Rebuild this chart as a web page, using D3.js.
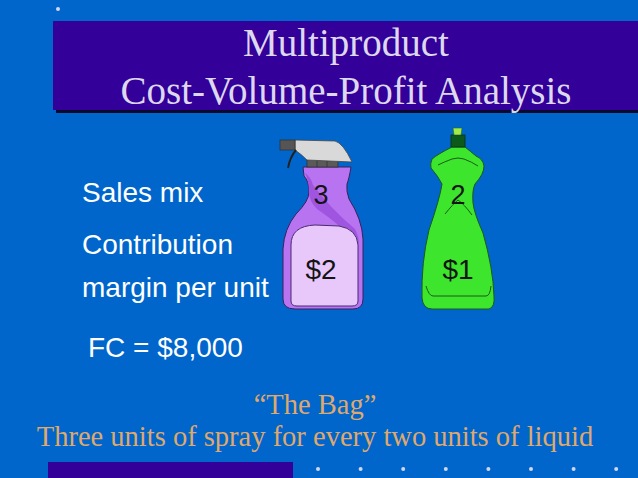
<!DOCTYPE html>
<html>
<head>
<meta charset="utf-8">
<script src="https://cdn.jsdelivr.net/npm/d3@7"></script>
<style>
  html, body { margin: 0; padding: 0; background: #0066cc; }
  svg { display: block; }
</style>
</head>
<body>
<div id="slide"></div>
<script>
// slide content
const titleLines = ['Multiproduct', 'Cost-Volume-Profit Analysis'];
const products = ['Spray', 'Liquid'];
const salesMix = [3, 2];
const cmPerUnit = [2, 1];
const fixedCost = 8000;
const rowLabels = ['Sales mix', 'Contribution', 'margin per unit'];
const footerLines = ['\u201CThe Bag\u201D', 'Three units of spray for every two units of liquid'];

const width = 638, height = 478;

const svg = d3.select('#slide').append('svg')
    .attr('width', width)
    .attr('height', height);

// background
svg.append('rect').attr('width', width).attr('height', height).attr('fill', '#0066cc');

// title box with shadow
svg.append('rect').attr('x', 56).attr('y', 24).attr('width', 600).attr('height', 89).attr('fill', '#0a0a2a');
svg.append('rect').attr('x', 53).attr('y', 21).attr('width', 600).attr('height', 89).attr('fill', '#330099');
svg.append('circle').attr('cx', 58).attr('cy', 9).attr('r', 2).attr('fill', '#cfd8f0');

svg.selectAll('.title')
    .data(titleLines)
    .join('text')
    .attr('class', 'title')
    .attr('x', 346)
    .attr('y', (d, i) => 56 + i * 48)
    .attr('text-anchor', 'middle')
    .attr('font-family', '"Liberation Serif", "Times New Roman", serif')
    .attr('font-size', 39)
    .attr('fill', '#ddd8ee')
    .text(d => d);

// row labels on the left
const labelY = d3.scaleOrdinal().domain(rowLabels).range([202, 254, 297]);
svg.selectAll('.row-label')
    .data(rowLabels)
    .join('text')
    .attr('class', 'row-label')
    .attr('x', 82)
    .attr('y', d => labelY(d))
    .attr('font-family', '"Liberation Sans", Arial, sans-serif')
    .attr('font-size', 28)
    .attr('fill', '#ffffff')
    .text(d => d);

svg.append('text')
    .attr('x', 88)
    .attr('y', 357)
    .attr('font-family', '"Liberation Sans", Arial, sans-serif')
    .attr('font-size', 28)
    .attr('fill', '#ffffff')
    .text('FC = ' + d3.format('$,')(fixedCost));

// bottle positions
const x = d3.scalePoint().domain(products).range([321, 458]);

// spray bottle (drawn around its own centre)
function drawSpray(g) {
    // body
    g.append('path')
        .attr('d', 'M-18,38 L30,38 Q28,50 26,55 Q25,62 28,70 Q41,90 42,110 L42,170 Q42,180 32,180 L-26,180 Q-38,180 -38,170 L-38,120 Q-37,100 -25,85 Q-12,72 -12,63 Q-12,52 -17,47 Z')
        .attr('fill', '#b873f0')
        .attr('stroke', '#3a2060')
        .attr('stroke-width', 1);
    // darker diagonal band
    g.append('path')
        .attr('d', 'M-16,44 Q-10,48 -8,56 Q10,80 34,100 Q38,108 38,115 Q18,95 -4,80 Q-12,72 -12,63 Q-12,52 -16,44 Z')
        .attr('fill', '#a055e0');
    // label
    g.append('path')
        .attr('d', 'M-30,116 Q-30,97 -6,96 L18,97 Q36,100 37,116 L37,172 Q37,177 31,177 L-24,177 Q-30,177 -30,172 Z')
        .attr('fill', '#e8c8fa')
        .attr('stroke', '#4a2a70')
        .attr('stroke-width', 1);
    // collar
    g.append('rect').attr('x', -14).attr('y', 29).attr('width', 31).attr('height', 9)
        .attr('fill', '#5a5a5a').attr('stroke', '#333').attr('stroke-width', 0.8);
    g.selectAll('.rib').data([-4, 6]).join('line')
        .attr('x1', d => d).attr('x2', d => d).attr('y1', 29).attr('y2', 38)
        .attr('stroke', '#333').attr('stroke-width', 0.8);
    // nozzle
    g.append('path')
        .attr('d', 'M-26,11 L14,12 Q22,14 31,33 L-14,31 Q-20,25 -26,21 Z')
        .attr('fill', '#d9d9d9')
        .attr('stroke', '#444')
        .attr('stroke-width', 0.8);
    g.append('rect').attr('x', -41).attr('y', 11).attr('width', 15).attr('height', 10)
        .attr('fill', '#555').attr('stroke', '#333').attr('stroke-width', 0.8);
    // trigger
    g.append('path')
        .attr('d', 'M-25,21 Q-31,28 -33,39')
        .attr('fill', 'none')
        .attr('stroke', '#222')
        .attr('stroke-width', 2);
}

// liquid bottle (drawn around its own centre)
function drawLiquid(g) {
    g.append('path')
        .attr('d', 'M-6,19 Q-20,26 -26,31 Q-28,36 -27,40 Q-20,48 -16,56 Q-18,70 -29,102 Q-37,135 -36,170 Q-35,181 -26,181 L31,181 Q37,179 36,168 Q35,140 25,105 Q16,85 15,75 Q14,62 17,56 Q26,46 26,38 Q25,31 18,28 Q12,23 7,19 Z')
        .attr('fill', '#3de52c')
        .attr('stroke', '#1c5a18')
        .attr('stroke-width', 1);
    // moulded curves
    const curves = [
        'M-20,37 Q-14,34 -6,31 Q0,29 6,31 Q14,34 20,38',
        'M-13,86 Q-5,76 0,72 Q6,76 14,87',
        'M-32,158 Q-29,168 -25,168 L28,168 Q32,168 33,158'
    ];
    g.selectAll('.mould').data(curves).join('path')
        .attr('d', d => d)
        .attr('fill', 'none')
        .attr('stroke', '#1c5a18')
        .attr('stroke-width', 1);
    // cap
    g.append('rect').attr('x', -7).attr('y', 7).attr('width', 14).attr('height', 12)
        .attr('fill', '#0b5a1c').attr('stroke', '#063010').attr('stroke-width', 0.8);
    g.append('path').attr('d', 'M-5,0 L4,0 L3,7 L-4,7 Z')
        .attr('fill', '#a0ea4c').attr('stroke', '#2a6a18').attr('stroke-width', 0.6);
}

const bottleTop = { Spray: 129, Liquid: 128 };
const bottles = svg.selectAll('.bottle')
    .data(products)
    .join('g')
    .attr('class', 'bottle')
    .attr('transform', d => `translate(${x(d)},${bottleTop[d]})`);

bottles.each(function(d) {
    const g = d3.select(this);
    if (d === 'Spray') drawSpray(g); else drawLiquid(g);
});

// sales mix and contribution margin numbers
svg.selectAll('.mix')
    .data(products)
    .join('text')
    .attr('class', 'mix')
    .attr('x', d => x(d))
    .attr('y', 204)
    .attr('text-anchor', 'middle')
    .attr('font-family', '"Liberation Sans", Arial, sans-serif')
    .attr('font-size', 27)
    .attr('fill', '#141414')
    .text((d, i) => salesMix[i]);

svg.selectAll('.cm')
    .data(products)
    .join('text')
    .attr('class', 'cm')
    .attr('x', d => x(d))
    .attr('y', 279)
    .attr('text-anchor', 'middle')
    .attr('font-family', '"Liberation Sans", Arial, sans-serif')
    .attr('font-size', 28)
    .attr('fill', '#141414')
    .text((d, i) => d3.format('$')(cmPerUnit[i]));

// footer
svg.selectAll('.footer')
    .data(footerLines)
    .join('text')
    .attr('class', 'footer')
    .attr('x', 315)
    .attr('y', (d, i) => 414 + i * 32)
    .attr('text-anchor', 'middle')
    .attr('font-family', '"Liberation Serif", "Times New Roman", serif')
    .attr('font-size', 28.5)
    .attr('fill', '#dfa86c')
    .text(d => d);

// bottom band and dots
svg.append('rect').attr('x', 48).attr('y', 462).attr('width', 245).attr('height', 16).attr('fill', '#330099');
svg.selectAll('.dot')
    .data(d3.range(8))
    .join('circle')
    .attr('class', 'dot')
    .attr('cx', i => 318 + i * 42.6)
    .attr('cy', 469)
    .attr('r', 2)
    .attr('fill', '#cfd8f0');
</script>
</body>
</html>
